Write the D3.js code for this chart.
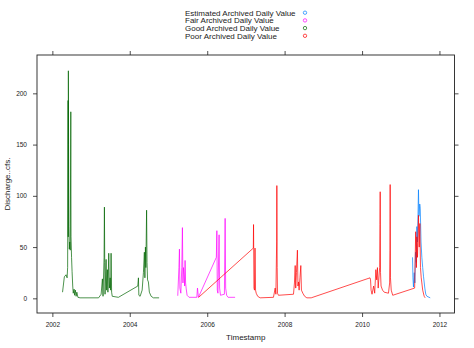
<!DOCTYPE html>
<html>
<head>
<meta charset="utf-8">
<script src="https://cdn.jsdelivr.net/npm/d3@7/dist/d3.min.js"></script>
<style>
  html, body { margin: 0; padding: 0; background: #fff; }
  svg { display: block; font-family: "Liberation Sans", Arial, sans-serif; }
</style>
</head>
<body>
<svg id="chart" width="474" height="348"></svg>
<script>
// Daily discharge records, grouped by archive quality code.
const groups = ["Estimated Archived Daily Value", "Fair Archived Daily Value",
                "Good Archived Daily Value", "Poor Archived Daily Value"];
const groupColors = ["#0080ff", "#ff00ff", "#006400", "#ff0000"];

const estimatedSeries = [
  ["2011-04-22", 40], ["2011-04-26", 20], ["2011-05-01", 11], ["2011-05-08", 25],
  ["2011-05-14", 15], ["2011-05-20", 45], ["2011-05-27", 35], ["2011-06-02", 70],
  ["2011-06-08", 55], ["2011-06-15", 95], ["2011-06-17", 106], ["2011-06-22", 80],
  ["2011-06-29", 92], ["2011-07-04", 88], ["2011-07-11", 55], ["2011-07-19", 40],
  ["2011-07-27", 30], ["2011-08-04", 21], ["2011-08-16", 10], ["2011-08-25", 4],
  ["2011-09-05", 2], ["2011-10-06", 0.5]
];

const fairSeries = [
  ["2005-03-29", 2.5], ["2005-04-09", 30], ["2005-04-14", 48], ["2005-04-18", 10],
  ["2005-04-27", 5], ["2005-05-06", 30], ["2005-05-12", 69], ["2005-05-17", 15],
  ["2005-05-22", 30], ["2005-05-28", 23], ["2005-06-02", 12], ["2005-06-06", 37],
  ["2005-06-11", 15], ["2005-06-16", 10], ["2005-06-25", 3], ["2005-07-14", 1],
  ["2005-09-25", 1], ["2005-10-01", 10], ["2005-10-10", 1],
  ["2006-03-28", 40], ["2006-04-02", 66], ["2006-04-06", 8], ["2006-04-12", 5],
  ["2006-04-23", 62], ["2006-04-28", 10], ["2006-05-06", 3], ["2006-06-12", 4],
  ["2006-06-19", 78], ["2006-06-24", 10], ["2006-07-03", 3], ["2006-07-17", 1],
  ["2006-09-21", 1]
];

const goodSeries = [
  ["2002-04-07", 6], ["2002-04-24", 21], ["2002-05-10", 23], ["2002-05-20", 20],
  ["2002-05-25", 30], ["2002-05-29", 193], ["2002-05-31", 60], ["2002-06-01", 222],
  ["2002-06-03", 150], ["2002-06-06", 70], ["2002-06-10", 48], ["2002-06-14", 55],
  ["2002-06-19", 47], ["2002-06-24", 182], ["2002-06-26", 60], ["2002-07-01", 40],
  ["2002-07-06", 26], ["2002-07-12", 12], ["2002-07-17", 5], ["2002-07-25", 9],
  ["2002-07-30", 3], ["2002-08-06", 8], ["2002-08-13", 2], ["2002-08-20", 6],
  ["2002-08-30", 1], ["2002-09-19", 0.5], ["2003-03-13", 0.5],
  ["2003-04-06", 4], ["2003-04-18", 19], ["2003-04-24", 2], ["2003-05-04", 40],
  ["2003-05-07", 89], ["2003-05-10", 35], ["2003-05-13", 4], ["2003-05-23", 38],
  ["2003-05-28", 8], ["2003-06-04", 28], ["2003-06-09", 6], ["2003-06-17", 44],
  ["2003-06-23", 10], ["2003-06-30", 20], ["2003-07-05", 8], ["2003-07-09", 44],
  ["2003-07-14", 6], ["2003-07-20", 2], ["2003-09-16", 1],
  ["2004-03-17", 12], ["2004-03-23", 20], ["2004-03-27", 3], ["2004-04-08", 2],
  ["2004-04-27", 8], ["2004-05-09", 25], ["2004-05-18", 45], ["2004-05-23", 20],
  ["2004-05-28", 50], ["2004-06-01", 30], ["2004-06-08", 86], ["2004-06-12", 35],
  ["2004-06-17", 18], ["2004-06-25", 16], ["2004-07-04", 6], ["2004-07-21", 2],
  ["2004-08-11", 0.5], ["2004-10-04", 0.5]
];

const poorSeries = [
  ["2005-10-12", 1], ["2007-03-12", 49], ["2007-03-14", 72], ["2007-03-18", 10],
  ["2007-03-23", 8], ["2007-03-28", 49], ["2007-04-02", 8], ["2007-04-08", 5],
  ["2007-04-22", 2], ["2007-05-15", 0.5], ["2007-09-18", 1], ["2007-10-04", 10],
  ["2007-10-11", 4], ["2007-10-18", 55], ["2007-10-20", 110], ["2007-10-23", 30],
  ["2007-10-26", 5], ["2007-11-04", 3],
  ["2008-03-25", 4], ["2008-04-03", 15], ["2008-04-10", 32], ["2008-04-15", 10],
  ["2008-04-22", 25], ["2008-05-01", 47], ["2008-05-06", 12], ["2008-05-11", 16],
  ["2008-05-17", 8], ["2008-05-25", 20], ["2008-06-02", 32], ["2008-06-08", 8],
  ["2008-06-21", 5], ["2008-07-08", 2], ["2008-07-29", 0.5], ["2008-09-08", 0.5],
  ["2010-03-17", 20], ["2010-03-22", 18], ["2010-03-27", 8], ["2010-04-05", 4],
  ["2010-04-20", 12], ["2010-04-30", 5], ["2010-05-11", 28], ["2010-05-19", 18],
  ["2010-05-26", 30], ["2010-06-02", 10], ["2010-06-16", 30], ["2010-06-19", 72],
  ["2010-06-21", 104], ["2010-06-24", 25], ["2010-06-29", 12], ["2010-07-13", 8],
  ["2010-07-29", 6], ["2010-09-07", 5], ["2010-09-18", 15], ["2010-09-21", 47],
  ["2010-09-23", 111], ["2010-09-26", 20], ["2010-10-03", 8], ["2010-10-17", 3],
  ["2011-05-12", 10], ["2011-05-17", 40], ["2011-05-22", 65], ["2011-05-29", 30],
  ["2011-06-02", 60], ["2011-06-08", 40], ["2011-06-17", 81], ["2011-06-24", 50],
  ["2011-06-30", 73], ["2011-07-06", 30], ["2011-07-13", 20], ["2011-07-19", 15],
  ["2011-07-27", 8], ["2011-08-10", 2], ["2011-08-19", 0.5]
];

const seriesList = [estimatedSeries, fairSeries, goodSeries, poorSeries];

const xTickYears = [2002, 2004, 2006, 2008, 2010, 2012];
const yTicks = [0, 50, 100, 150, 200];
const xTitle = "Timestamp";
const yTitle = "Discharge..cfs.";

const parse = d3.timeParse("%Y-%m-%d");
const svg = d3.select("#chart");

const frame = { left: 37, right: 454.5, top: 55, bottom: 313 };

const x = d3.scaleTime()
  .domain([parse("2001-08-09"), parse("2012-05-22")])
  .range([frame.left, frame.right]);
const y = d3.scaleLinear()
  .domain([-14.3, 237.4])
  .range([frame.bottom, frame.top]);

const xTickDates = xTickYears.map(yr => new Date(yr, 0, 1));

// axes on all four sides, labels only on bottom and left
function styleAxis(g) {
  g.select(".domain").remove();
  g.selectAll(".tick line").attr("stroke", "#222").attr("stroke-width", 0.8);
  g.selectAll("text").attr("fill", "#222").attr("font-size", 6.5)
    .attr("font-family", "'Liberation Sans', Arial, sans-serif");
}

svg.append("g")
  .attr("transform", `translate(0,${frame.bottom})`)
  .call(d3.axisBottom(x).tickValues(xTickDates).tickFormat(d3.timeFormat("%Y"))
    .tickSize(4).tickPadding(5))
  .call(styleAxis);
svg.append("g")
  .attr("transform", `translate(0,${frame.top})`)
  .call(d3.axisTop(x).tickValues(xTickDates).tickFormat("").tickSize(4))
  .call(styleAxis);
svg.append("g")
  .attr("transform", `translate(${frame.left},0)`)
  .call(d3.axisLeft(y).tickValues(yTicks).tickSize(4).tickPadding(6))
  .call(styleAxis);
svg.append("g")
  .attr("transform", `translate(${frame.right},0)`)
  .call(d3.axisRight(y).tickValues(yTicks).tickFormat("").tickSize(4))
  .call(styleAxis);

// panel border
svg.append("rect")
  .attr("x", frame.left).attr("y", frame.top)
  .attr("width", frame.right - frame.left).attr("height", frame.bottom - frame.top)
  .attr("fill", "none").attr("stroke", "#222").attr("stroke-width", 0.9);

// one line per quality group, drawn in group order
const line = d3.line()
  .x(d => x(parse(d[0])))
  .y(d => y(d[1]));

svg.append("g")
  .selectAll("path")
  .data(seriesList)
  .join("path")
  .attr("d", line)
  .attr("fill", "none")
  .attr("stroke", (d, i) => groupColors[i])
  .attr("stroke-width", 0.7)
  .attr("stroke-linejoin", "round");

// axis titles
svg.append("text")
  .attr("x", (frame.left + frame.right) / 2).attr("y", 340)
  .attr("text-anchor", "middle").attr("font-size", 8).attr("fill", "#222")
  .text(xTitle);
svg.append("text")
  .attr("transform", `translate(10,${(frame.top + frame.bottom) / 2}) rotate(-90)`)
  .attr("text-anchor", "middle").attr("font-size", 8).attr("fill", "#222")
  .text(yTitle);

// key
const key = svg.append("g");
groups.forEach((name, i) => {
  const cy = 12.7 + i * 7.7;
  key.append("text")
    .attr("x", 185).attr("y", cy + 2.8)
    .attr("font-size", 8).attr("fill", "#222")
    .text(name);
  key.append("circle")
    .attr("cx", 305).attr("cy", cy).attr("r", 1.7)
    .attr("fill", "none").attr("stroke", groupColors[i]).attr("stroke-width", 0.7);
});
</script>
</body>
</html>
